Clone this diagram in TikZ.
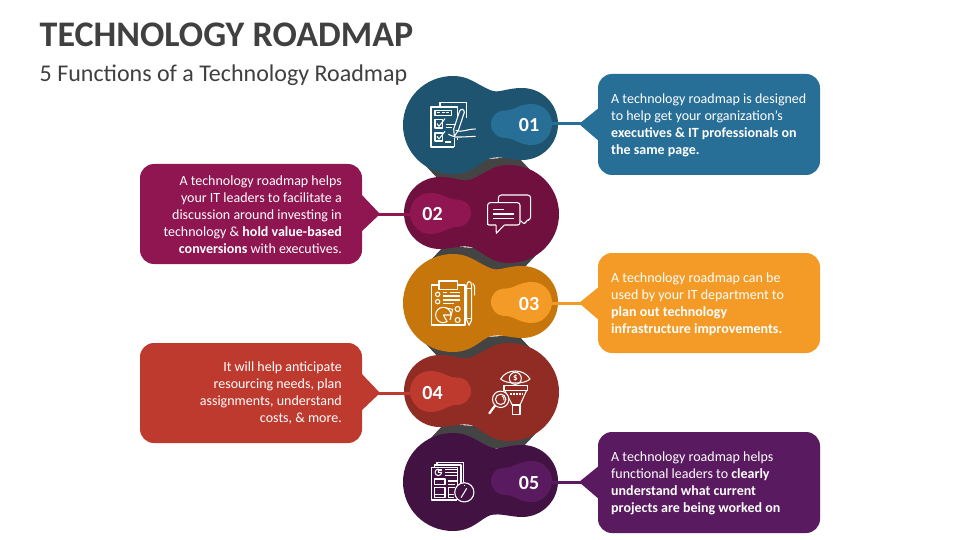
\documentclass[tikz,border=0pt]{standalone}
\usepackage{fontspec}
\setmainfont{Carlito}
\definecolor{ttl}{HTML}{404040}
\definecolor{shad}{HTML}{444444}
\definecolor{aD}{HTML}{1F5470}\definecolor{aL}{HTML}{286F98}
\definecolor{bD}{HTML}{6F103E}\definecolor{bL}{HTML}{901652}
\definecolor{cD}{HTML}{C6760A}\definecolor{cL}{HTML}{F39B26}
\definecolor{dD}{HTML}{902C23}\definecolor{dL}{HTML}{BE3A2F}
\definecolor{eD}{HTML}{421243}\definecolor{eL}{HTML}{5A1A60}
\def\blobpath{(-78,0) .. controls (-78,-27) and (-56,-49) .. (-28,-49)
 .. controls (-12,-49) and (-5,-41) .. (9,-35)
 .. controls (18,-31) and (24,-37) .. (41,-37)
 .. controls (61,-37) and (77,-21) .. (77,-1)
 .. controls (77,19) and (61,35) .. (41,35)
 .. controls (30,35) and (20,31) .. (10,33)
 .. controls (0,36) and (-8,49) .. (-28,49)
 .. controls (-56,49) and (-78,27) .. (-78,0) -- cycle}
\def\innerpath{(10,-1) .. controls (10,-8.5) and (15.5,-14.5) .. (25,-14.5)
 .. controls (33,-14.5) and (38,-21) .. (51,-21)
 .. controls (62,-21) and (71,-12) .. (71,-1)
 .. controls (71,10) and (62,20) .. (51,20)
 .. controls (38,20) and (33,13) .. (25,13)
 .. controls (15.5,13) and (10,6.5) .. (10,-1) -- cycle}
\newcommand\gapshade[2]{% cy, mirror sign
 \begin{scope}[shift={(481,#1)},xscale=#2]
  \fill[shad] (-58,38) -- (-41,56) -- (49,56) -- (52,48) -- (37,32) -- cycle;
 \end{scope}}
\newcommand\blobshape[4]{% cy, mirror, dark, light
 \begin{scope}[shift={(481,#1)},xscale=#2]
  \fill[#3] \blobpath;
  \fill[#4] \innerpath;
 \end{scope}}
\tikzset{
 bodytext/.style={text=white,font=\fontsize{14}{17}\selectfont,inner sep=0pt},
 numtext/.style={text=white,font=\fontsize{20}{20}\selectfont\bfseries,inner sep=0pt},
 link/.style={line width=3pt},
 panel/.style={rounded corners=14pt},
 ico/.style={draw=white,line width=1.05pt,line join=round},
 icoz/.style={x=0.3333pt,y=-0.3333pt}
}
\begin{document}
\begin{tikzpicture}[x=1pt,y=-1pt]
\useasboundingbox (0,0) rectangle (960,540);
\fill[white] (0,0) rectangle (960,540);
\node[anchor=base west,inner sep=0pt,text=ttl,font=\fontsize{36}{36}\selectfont\bfseries] (title) at (39.5,46.5) {TECHNOLOGY ROADMAP};
\node[anchor=base west,inner sep=0pt,text=ttl,font=\fontsize{24}{24}\selectfont] (subtitle) at (39.5,81.3) {5 Functions of a Technology Roadmap};

% shadows
\gapshade{125}{1}\gapshade{214}{-1}\gapshade{303}{1}\gapshade{392}{-1}
% callouts
\fill[aL,panel] (598,74) rectangle (820,175);
\fill[aL] (600,107) -- (579,124) -- (600,142) -- cycle;
\fill[bL,panel] (140,164) rectangle (362,264);
\fill[bL] (360,193) -- (380,214) -- (360,233) -- cycle;
\fill[cL,panel] (598,253) rectangle (820,353);
\fill[cL] (600,286) -- (579,303) -- (600,321) -- cycle;
\fill[dL,panel] (140,343) rectangle (362,443);
\fill[dL] (360,372) -- (380,393) -- (360,412) -- cycle;
\fill[eL,panel] (598,432) rectangle (820,533);
\fill[eL] (600,465) -- (579,482) -- (600,500) -- cycle;
% blobs
\blobshape{125}{1}{aD}{aL}
\blobshape{214}{-1}{bD}{bL}
\blobshape{303}{1}{cD}{cL}
\blobshape{392}{-1}{dD}{dL}
\blobshape{482}{1}{eD}{eL}
% numbers
\node[numtext] (n1) at (529,125) {01};
\node[numtext] (n2) at (432.5,214) {02};
\node[numtext] (n3) at (529,304) {03};
\node[numtext] (n4) at (432.5,393) {04};
\node[numtext] (n5) at (529,483) {05};
% connector ends
\coordinate (p1) at (552,124);\coordinate (t1) at (582,124);
\coordinate (p2) at (410,214);\coordinate (t2) at (378,214);
\coordinate (p3) at (552,303);\coordinate (t3) at (582,303);
\coordinate (p4) at (410,393);\coordinate (t4) at (378,393);
\coordinate (p5) at (552,482);\coordinate (t5) at (582,482);
\draw[link,aL] (p1) -- (t1);
\draw[link,bL] (p2) -- (t2);
\draw[link,cL] (p3) -- (t3);
\draw[link,dL] (p4) -- (t4);
\draw[link,eL] (p5) -- (t5);
% texts
\node[bodytext,anchor=west,align=left] (c1) at (611,125) {A technology roadmap is designed\\to help get your organization’s\\\textbf{executives \& IT professionals on}\\\textbf{the same page.}};
\node[bodytext,anchor=east,align=right] (c2) at (342,215) {A technology roadmap helps\\your IT leaders to facilitate a\\discussion around investing in\\technology \& \textbf{hold value-based}\\\textbf{conversions} with executives.};
\node[bodytext,anchor=west,align=left] (c3) at (611,304) {A technology roadmap can be\\used by your IT department to\\\textbf{plan out technology}\\\textbf{infrastructure improvements.}};
\node[bodytext,anchor=east,align=right] (c4) at (342,393) {It will help anticipate\\resourcing needs, plan\\assignments, understand\\costs, \& more.};
\node[bodytext,anchor=west,align=left] (c5) at (611,483) {A technology roadmap helps\\functional leaders to \textbf{clearly}\\\textbf{understand what current}\\\textbf{projects are being worked on}};

% icon 1
\begin{scope}[shift={(425pt,-97pt)},icoz]
 \draw[ico] (45,30) -- (45,17) -- (125,17) -- (125,62);
 \draw[ico] (88,150) -- (18,150) -- (18,30) -- (97,30) -- (97,62);
 \draw[ico] (30,40) rectangle (80,55);
 \draw[ico,dash pattern=on 3pt off 1.5pt] (36,47.5) -- (76,47.5);
 \draw[ico] (30,68) rectangle (52,93);
 \draw[ico] (36,80) -- (42,88) -- (60,65);
 \draw[ico] (30,108) rectangle (52,132);
 \draw[ico] (36,118) -- (42,126) -- (60,103);
 \draw[ico] (62,82) -- (92,82) (62,92) -- (80,92) (60,135) -- (78,135);
 \draw[ico] (104,42) .. controls (108,34) and (118,36) .. (118,46) -- (100,100) -- (88,118) -- (86,96) -- cycle;
 \draw[ico] (92,100) .. controls (110,108) and (125,96) .. (152,96);
 \draw[ico] (70,112) -- (90,120) -- (110,120) -- (152,118);
 \draw[ico] (88,122) -- (88,150) (97,122) -- (97,130);
\end{scope}
% icon 2
\begin{scope}[shift={(390pt,-170pt)},icoz]
 \draw[ico,rounded corners=3pt] (325,98) -- (325,75) -- (422,75) -- (422,150) -- (408,150) -- (405,165) -- (392,152);
 \draw[ico,rounded corners=2.5pt] (293,165) -- (293,98) -- (390,98) -- (390,165) -- (343,165);
 \draw[ico,rounded corners=1pt] (293,150) -- (293,165) -- (318,165);
 \draw[ico] (318,165) -- (319,190) -- (343,165);
 \draw[ico] (310,118) -- (342,118) (310,132) -- (372,132) (310,146) -- (372,146);
\end{scope}
% icon 3
\begin{scope}[shift={(390pt,-270pt)},icoz]
 \draw[ico] (147,45) -- (125,45) -- (125,165) -- (225,165) -- (225,45) -- (203,45);
 \draw[ico] (147,33) rectangle (203,58);
 \draw[ico] (143,73) circle[radius=2.2pt] (143,95) circle[radius=2.2pt];
 \draw[ico] (160,68) -- (172,68) (180,68) -- (210,68) (160,78) -- (210,78);
 \draw[ico] (160,90) -- (210,90) (160,101) -- (192,101);
 \draw[ico] (183,135) arc[start angle=0,end angle=300,radius=7.7pt] -- (160,135) -- cycle;
 \draw[ico] (168,114) -- (188,118) -- (180,150);
 \draw[ico] (203,117) circle[radius=2.5pt] (203,150) circle[radius=2.5pt];
 \draw[ico] (230,48) .. controls (230,30) and (245,30) .. (245,48) -- (245,150) -- (237,166) -- (230,150) -- cycle;
 \draw[ico] (230,55) -- (245,55) (230,145) -- (245,145);
 \draw[ico] (248,40) .. controls (254,42) and (254,46) .. (254,76);
\end{scope}
% icon 4
\begin{scope}[shift={(480pt,-365pt)},icoz]
 \draw[ico] (62,42) .. controls (80,10) and (132,10) .. (150,42) .. controls (135,58) and (78,58) .. (62,42) -- cycle;
 \draw[ico] (106,40) circle[radius=6pt];
 \node[text=white,inner sep=0pt,font=\fontsize{9}{9}\selectfont\bfseries] (dollar) at (106,40) {\$};
 \fill[dD] (70,60) rectangle (144,78);
 \draw[ico] (72,62) rectangle (142,76);
 \draw[ico] (74,76) -- (97,120) -- (120,120) -- (140,76);
 \draw[ico] (97,120) rectangle (120,148);
 \draw[ico,dash pattern=on 1.5pt off 1.5pt,line width=1.2pt] (90,87) -- (128,87);
 \fill[dD] (62,103) circle[radius=8.5pt];
 \draw[ico] (62,103) circle[radius=8.2pt] (62,103) circle[radius=5.2pt];
 \draw[ico] (66,93) .. controls (72,95) and (73,100) .. (72,106);
 \draw[ico,line width=2.2pt,line cap=round] (45,122) -- (28,145);
\end{scope}
% icon 5
\begin{scope}[shift={(425pt,-455pt)},icoz]
 \draw[ico] (36,30) -- (36,22) -- (115,22) -- (115,85);
 \draw[ico] (28,38) -- (28,30) -- (108,30) -- (108,85);
 \draw[ico] (95,135) -- (19,135) -- (19,38) -- (98,38) -- (98,90);
 \draw[ico] (40,42) arc[start angle=90,end angle=360,radius=3.3pt] -- (40,52) -- cycle;
 \fill[white] (42,41) rectangle (50,49);
 \draw[ico,line width=1.3pt] (60,44) -- (95,44) (60,53) -- (95,53) (60,62) -- (95,62);
 \draw[ico] (28,72) rectangle (60,88);
 \draw[ico,line width=1.3pt] (70,78) -- (95,78) (70,88) -- (90,88);
 \draw[ico] (28,97) rectangle (60,128) (28,118) -- (60,118);
 \draw[ico] (70,128) -- (70,97) -- (90,97) (70,128) -- (88,128) (70,118) -- (88,118);
 \fill[eD] (118,112) circle[radius=10pt];
 \draw[ico,line width=1.1pt] (118,112) circle[radius=9.6pt];
 \draw[ico] (118,90) -- (118,94);
 \draw[ico] (108,128) -- (118,112) -- (125,100);
\end{scope}
\end{tikzpicture}
\end{document}
